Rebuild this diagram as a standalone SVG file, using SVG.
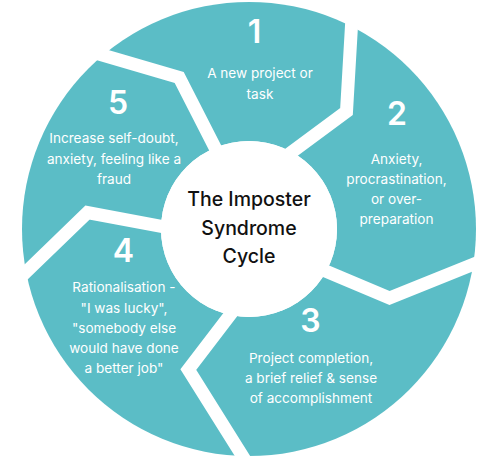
<svg xmlns="http://www.w3.org/2000/svg" width="500" height="458" viewBox="0 0 500 458">
<style>
.seg{fill:#5bbdc6;mask:url(#gaps)}
.num{font-family:Inter,"Open Sans","DejaVu Sans",sans-serif;font-weight:600;font-size:32px;fill:#fff;text-anchor:middle}
.txt{font-family:Inter,"Open Sans","DejaVu Sans",sans-serif;font-weight:400;font-size:13.6px;fill:#fff;text-anchor:middle}
.title{font-family:Inter,"Open Sans","DejaVu Sans",sans-serif;font-weight:500;font-size:19.5px;fill:#111;text-anchor:middle}
</style>
<defs>
<mask id="gaps" maskUnits="userSpaceOnUse" x="0" y="0" width="500" height="458">
<rect width="500" height="458" fill="#000"/>
<circle cx="249" cy="229" r="227" fill="#fff"/>
<circle cx="249" cy="229" r="88" fill="#000"/>
<g fill="none" stroke="#000" stroke-width="13" stroke-linejoin="miter">
<polyline points="279,161.5 346.5,111.5 353,0"/>
<polyline points="310,264.5 389.5,298 500,253.5"/>
<polyline points="243.5,297.4 188.3,369.5 251.3,470.1"/>
<polyline points="184,230.7 87.5,212.5 0,297.2"/>
<polyline points="225.7,168.5 179.2,77.5 80,48.5"/>
</g>
</mask>
</defs>
<rect width="500" height="458" fill="#fff"/>
<g id="step1">
<path class="seg" d="M249,229 L225.7,168.5 L179.2,77.5 L80,48.5 L249,-150 L353,0 L346.5,111.5 L279,161.5 Z"/>
<text class="num" x="254.5" y="43.3">1</text>
<text class="txt" x="260" y="78"><tspan x="260">A new project or</tspan><tspan x="260" dy="21">task</tspan></text>
</g>
<g id="step2">
<path class="seg" d="M249,229 L279,161.5 L346.5,111.5 L353,0 L600,0 L500,253.5 L389.5,298 L310,264.5 Z"/>
<text class="num" x="397" y="125">2</text>
<text class="txt" x="396.5" y="163.5"><tspan x="396.5">Anxiety,</tspan><tspan x="396.5" dy="20.3">procrastination,</tspan><tspan x="396.5" dy="20.3">or over-</tspan><tspan x="396.5" dy="20.3">preparation</tspan></text>
</g>
<g id="step3">
<path class="seg" d="M249,229 L310,264.5 L389.5,298 L500,253.5 L600,600 L251.3,470.1 L188.3,369.5 L243.5,297.4 Z"/>
<text class="num" x="310.5" y="331.7">3</text>
<text class="txt" x="311" y="362.7"><tspan x="311">Project completion,</tspan><tspan x="311" dy="20.3">a brief relief &amp; sense</tspan><tspan x="311" dy="20.3">of accomplishment</tspan></text>
</g>
<g id="step4">
<path class="seg" d="M249,229 L243.5,297.4 L188.3,369.5 L251.3,470.1 L-100,560 L0,297.2 L87.5,212.5 L184,230.7 Z"/>
<text class="num" x="123.5" y="262.3">4</text>
<text class="txt" x="124" y="292.3"><tspan x="124">Rationalisation -</tspan><tspan x="124" dy="20.25">"I was lucky",</tspan><tspan x="124" dy="20.25">"somebody else</tspan><tspan x="124" dy="20.25">would have done</tspan><tspan x="124" dy="20.25">a better job"</tspan></text>
</g>
<g id="step5">
<path class="seg" d="M249,229 L184,230.7 L87.5,212.5 L0,297.2 L-100,-100 L80,48.5 L179.2,77.5 L225.7,168.5 Z"/>
<text class="num" x="118" y="114">5</text>
<text class="txt" x="114" y="143.3"><tspan x="114">Increase self-doubt,</tspan><tspan x="114" dy="20.3">anxiety, feeling like a</tspan><tspan x="114" dy="20.3">fraud</tspan></text>
</g>
<g id="center">
<circle cx="249" cy="229" r="88" fill="#fff"/>
<text class="title" x="249" y="206"><tspan x="249">The Imposter</tspan><tspan x="249" dy="28.7">Syndrome</tspan><tspan x="249" dy="28.7">Cycle</tspan></text>
</g>
</svg>
